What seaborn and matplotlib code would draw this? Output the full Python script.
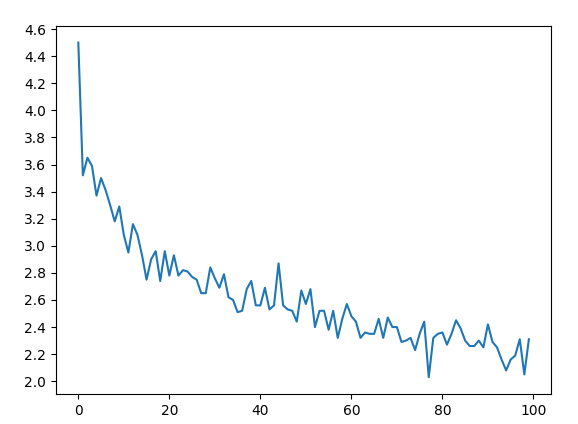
import matplotlib
matplotlib.use("Agg")
import matplotlib.pyplot as plt
import seaborn as sns
import numpy as np
import pandas as pd

# values, one per step (0..99)
loss_0_19 = [4.50, 3.52, 3.65, 3.59, 3.37, 3.50, 3.41, 3.30, 3.18, 3.29,
             3.08, 2.95, 3.16, 3.08, 2.93, 2.75, 2.90, 2.96, 2.74, 2.96]
loss_20_39 = [2.78, 2.93, 2.78, 2.82, 2.81, 2.77, 2.75, 2.65, 2.65, 2.84,
              2.76, 2.69, 2.79, 2.62, 2.60, 2.51, 2.52, 2.68, 2.74, 2.56]
loss_40_59 = [2.56, 2.69, 2.53, 2.56, 2.87, 2.56, 2.53, 2.52, 2.44, 2.67,
              2.57, 2.68, 2.40, 2.52, 2.52, 2.38, 2.52, 2.32, 2.46, 2.57]
loss_60_79 = [2.48, 2.44, 2.32, 2.36, 2.35, 2.35, 2.46, 2.32, 2.47, 2.40,
              2.40, 2.29, 2.30, 2.32, 2.23, 2.35, 2.44, 2.03, 2.32, 2.35]
loss_80_99 = [2.36, 2.27, 2.35, 2.45, 2.39, 2.30, 2.26, 2.26, 2.30, 2.25,
              2.42, 2.29, 2.25, 2.16, 2.08, 2.16, 2.19, 2.31, 2.05, 2.31]

loss = loss_0_19 + loss_20_39 + loss_40_59 + loss_60_79 + loss_80_99
steps = list(range(len(loss)))

df = pd.DataFrame({"step": steps, "loss": loss})

fig, ax = plt.subplots(figsize=(5.78, 4.24), dpi=100)
sns.lineplot(data=df, x="step", y="loss", ax=ax, color="#1f77b4", linewidth=1.5)
ax.set_xlabel("")
ax.set_ylabel("")
ax.set_yticks(np.arange(2.0, 4.61, 0.2))
ax.set_xticks([0, 20, 40, 60, 80, 100])
plt.subplots_adjust(left=0.0965, right=0.954, bottom=0.071, top=0.939)

fig.savefig("out.png", dpi=100)
